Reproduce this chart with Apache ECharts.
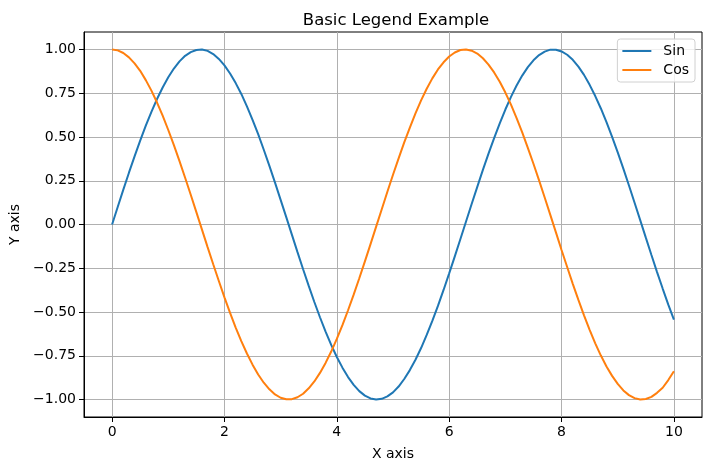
<!DOCTYPE html>
<html>
<head>
<meta charset="utf-8">
<script src="https://cdn.jsdelivr.net/npm/echarts@6/dist/echarts.min.js"></script>
<style>
  html, body { margin: 0; padding: 0; background: #fff; }
  #chart { width: 711px; height: 470px; }
</style>
</head>
<body>
<div id="chart"></div>
<script>
// values, x step 0.1
var xs = [0,0.1,0.2,0.3,0.4,0.5,0.6,0.7,0.8,0.9,1,1.1,1.2,1.3,1.4,1.5,1.6,1.7,1.8,1.9,
          2,2.1,2.2,2.3,2.4,2.5,2.6,2.7,2.8,2.9,3,3.1,3.2,3.3,3.4,3.5,3.6,3.7,3.8,3.9,
          4,4.1,4.2,4.3,4.4,4.5,4.6,4.7,4.8,4.9,5,5.1,5.2,5.3,5.4,5.5,5.6,5.7,5.8,5.9,
          6,6.1,6.2,6.3,6.4,6.5,6.6,6.7,6.8,6.9,7,7.1,7.2,7.3,7.4,7.5,7.6,7.7,7.8,7.9,
          8,8.1,8.2,8.3,8.4,8.5,8.6,8.7,8.8,8.9,9,9.1,9.2,9.3,9.4,9.5,9.6,9.7,9.8,9.9,10];
var sinVals = [0,0.100,0.199,0.296,0.389,0.479,0.565,0.644,0.717,0.783,
               0.841,0.891,0.932,0.964,0.985,0.997,1.000,0.992,0.974,0.946,
               0.909,0.863,0.808,0.746,0.675,0.598,0.516,0.427,0.335,0.239,
               0.141,0.042,-0.058,-0.158,-0.256,-0.351,-0.443,-0.530,-0.612,-0.688,
               -0.757,-0.818,-0.872,-0.916,-0.952,-0.978,-0.994,-1.000,-0.996,-0.982,
               -0.959,-0.926,-0.883,-0.832,-0.773,-0.706,-0.631,-0.551,-0.465,-0.374,
               -0.279,-0.182,-0.083,0.017,0.117,0.215,0.312,0.405,0.494,0.578,
               0.657,0.729,0.794,0.851,0.899,0.938,0.968,0.988,0.999,0.999,
               0.989,0.970,0.941,0.902,0.855,0.798,0.734,0.663,0.585,0.501,
               0.412,0.319,0.223,0.124,0.025,-0.075,-0.174,-0.272,-0.366,-0.458,-0.544];
var cosVals = [1.000,0.995,0.980,0.955,0.921,0.878,0.825,0.765,0.697,0.622,
               0.540,0.454,0.362,0.267,0.170,0.071,-0.029,-0.129,-0.227,-0.323,
               -0.416,-0.505,-0.589,-0.666,-0.737,-0.801,-0.857,-0.904,-0.942,-0.971,
               -0.990,-0.999,-0.998,-0.987,-0.967,-0.936,-0.897,-0.848,-0.791,-0.726,
               -0.654,-0.575,-0.490,-0.401,-0.307,-0.211,-0.112,-0.012,0.087,0.187,
               0.284,0.378,0.469,0.554,0.635,0.709,0.776,0.835,0.886,0.927,
               0.960,0.983,0.997,1.000,0.993,0.977,0.950,0.914,0.869,0.816,
               0.754,0.685,0.608,0.526,0.438,0.347,0.252,0.154,0.055,-0.045,
               -0.146,-0.243,-0.339,-0.431,-0.519,-0.602,-0.679,-0.749,-0.811,-0.865,
               -0.911,-0.948,-0.975,-0.992,-1.000,-0.997,-0.985,-0.962,-0.933,-0.889,-0.839];
var xTicks = [0,2,4,6,8,10];
var yTicks = [-1,-0.75,-0.5,-0.25,0,0.25,0.5,0.75,1];

function pairs(ys) {
    return xs.map(function (x, i) { return [x, ys[i]]; });
}

var font = 'DejaVu Sans';
var chart = echarts.init(document.getElementById('chart'));
chart.setOption({
    animation: false,
    textStyle: { fontFamily: font },
    title: {
        text: 'Basic Legend Example',
        left: 391, textAlign: 'center', top: 7,
        textStyle: { fontFamily: font, fontSize: 16.5, fontWeight: 'normal', color: '#000' }
    },
    legend: {
        orient: 'vertical',
        right: 16, top: 39,
        padding: [5, 6, 5, 5],
        itemGap: 5,
        icon: 'rect',
        itemWidth: 29, itemHeight: 2,
        borderColor: '#d0d0d0', borderWidth: 1, borderRadius: 3,
        backgroundColor: 'rgba(255,255,255,0.8)',
        textStyle: { fontFamily: font, fontSize: 14, color: '#000', padding: [0, 0, 0, 7] },
        data: ['Sin', 'Cos']
    },
    grid: {
        left: 82, right: 9, top: 32, bottom: 53,
        show: true, borderColor: '#000', borderWidth: 1, backgroundColor: 'transparent'
    },
    xAxis: {
        type: 'value', min: -0.5, max: 10.5,
        name: 'X axis', nameLocation: 'middle', nameGap: 30,
        nameTextStyle: { fontFamily: font, fontSize: 14, color: '#000' },
        axisLine: { onZero: false, lineStyle: { color: '#000', width: 1 } },
        axisTick: { show: true, length: 5, customValues: xTicks, lineStyle: { color: '#000' } },
        axisLabel: { customValues: xTicks, fontSize: 14, color: '#000', margin: 8 },
        splitLine: { show: true, lineStyle: { color: '#b0b0b0', width: 1 } }
    },
    yAxis: {
        type: 'value', min: -1.1, max: 1.1,
        name: 'Y axis', nameLocation: 'middle', nameGap: 62, nameRotate: 90,
        nameTextStyle: { fontFamily: font, fontSize: 14, color: '#000' },
        axisLine: { show: true, onZero: false, lineStyle: { color: '#000', width: 1 } },
        axisTick: { show: true, length: 5, customValues: yTicks, lineStyle: { color: '#000' } },
        axisLabel: {
            customValues: yTicks, fontSize: 14, color: '#000', margin: 8,
            formatter: function (v) { return v.toFixed(2).replace('-', '\u2212'); }
        },
        splitLine: { show: true, lineStyle: { color: '#b0b0b0', width: 1 } }
    },
    series: [
        { name: 'Sin', type: 'line', data: pairs(sinVals), symbol: 'none',
          lineStyle: { color: '#1f77b4', width: 2 }, itemStyle: { color: '#1f77b4' } },
        { name: 'Cos', type: 'line', data: pairs(cosVals), symbol: 'none',
          lineStyle: { color: '#ff7f0e', width: 2 }, itemStyle: { color: '#ff7f0e' } }
    ]
});
</script>
</body>
</html>
